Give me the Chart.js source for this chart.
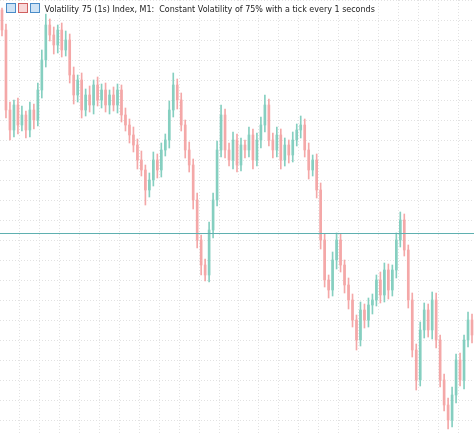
<!DOCTYPE html>
<html>
<head>
<meta charset="utf-8">
<script src="https://cdn.jsdelivr.net/npm/chart.js@4"></script>
<style>
html,body{margin:0;padding:0;background:#fff;}
#wrap{position:relative;width:474px;height:434px;}
#title{position:absolute;left:4px;top:3px;font:8px "DejaVu Sans",sans-serif;color:#222;background:rgba(255,255,255,0.8);padding:0 2px;white-space:nowrap;}
#title span{display:inline-block;width:8px;height:8px;margin-right:2px;vertical-align:-1px;border:1px solid #4a8cc8;background:#cfe3f5;}
#title span.r{border-color:#d06060;background:#f8d8d8;}
</style>
</head>
<body>
<div id="wrap">
<canvas id="c" width="474" height="434"></canvas>
<div id="title"><span></span><span class="r"></span><span></span> Volatility 75 (1s) Index, M1:&nbsp; Constant Volatility of 75% with a tick every 1 seconds</div>
</div>
<script>
// levels are read as screen heights from the top (axis is reversed)
let openFirst=10;
let closes=[30,110,130,105,125,115,130,110,120,90,60,25,35,45,30,50,40,75,95,80,
110,95,105,85,100,90,105,95,105,90,115,125,135,145,160,170,190,180,160,170,
150,140,110,85,100,125,150,165,200,240,265,275,230,200,150,115,150,160,140,165,
145,150,135,160,140,125,105,140,150,135,160,145,155,140,130,125,150,170,160,190,
240,280,290,260,240,265,285,300,320,340,310,320,305,300,280,295,270,290,270,240,
220,250,300,350,380,330,310,330,300,340,380,405,420,395,360,380,340,320,335];
let wickUp=[2,6,8,5,7,9,4,8,6,7,10,12,6,8,5,7,9,6,8,5,
7,6,9,5,8,6,7,5,8,6,5,7,6,8,6,9,5,7,8,6,
7,6,9,12,6,7,5,8,6,7,5,6,8,7,9,10,6,7,8,6,
7,5,8,6,7,8,10,6,7,8,6,7,5,8,6,9,6,7,5,6,
7,6,5,8,7,6,5,7,6,5,8,6,7,6,5,8,7,6,5,7,
8,6,5,7,6,8,7,6,8,7,5,6,7,8,6,7,5,8,6];
let wickDown=[6,8,10,7,9,6,8,7,9,6,8,7,6,9,8,7,6,8,9,7,
8,6,7,9,6,8,7,9,6,8,7,6,8,7,9,6,15,7,6,8,
7,6,8,7,9,6,8,7,9,8,10,6,7,8,6,7,8,6,9,7,
6,8,7,9,6,8,7,6,8,7,9,6,8,7,6,8,7,9,6,8,
9,7,8,6,9,7,8,9,7,10,6,8,7,9,6,8,7,9,6,8,
7,6,8,7,10,6,8,7,9,8,7,6,9,7,8,6,9,7,8];
let opens=closes.map((c,i)=>i==0?openFirst:closes[i-1]);
let labels=closes.map((c,i)=>i);
let hlineLevel=233;

let up="#86cfc0", down="#f4a8a8";
let colors=closes.map((c,i)=>c<opens[i]?up:down);
let bodies=closes.map((c,i)=>[opens[i],c]);
let wicks=closes.map((c,i)=>[Math.min(opens[i],c)-wickUp[i],Math.max(opens[i],c)+wickDown[i]]);

let hline={
id:"hline",
afterDatasetsDraw(chart){
let ctx=chart.ctx, y=Math.round(chart.scales.y.getPixelForValue(hlineLevel));
ctx.save();ctx.setLineDash([]);ctx.strokeStyle="#5fb0b0";ctx.lineWidth=1;
ctx.beginPath();ctx.moveTo(0,y+0.5);ctx.lineTo(chart.width,y+0.5);ctx.stroke();
ctx.restore();
}
};

new Chart(document.getElementById("c"),{
type:"bar",
data:{
labels:labels,
datasets:[
{data:wicks,backgroundColor:colors,barThickness:1,grouped:false},
{data:bodies,backgroundColor:colors,barThickness:2,grouped:false}
]
},
options:{
responsive:false,animation:false,
layout:{padding:0},
plugins:{legend:{display:false},tooltip:{enabled:false}},
scales:{
x:{display:true,offset:true,border:{display:false,dash:[1,2]},ticks:{display:false},
grid:{drawTicks:false,color:(c)=>c.index%5==0?"#e2e2e2":"transparent"}},
y:{reverse:true,min:0,max:434,border:{display:false,dash:[1,2]},ticks:{display:false,stepSize:20},
grid:{drawTicks:false,color:"#e2e2e2"}}
}
},
plugins:[hline]
});
</script>
</body>
</html>
